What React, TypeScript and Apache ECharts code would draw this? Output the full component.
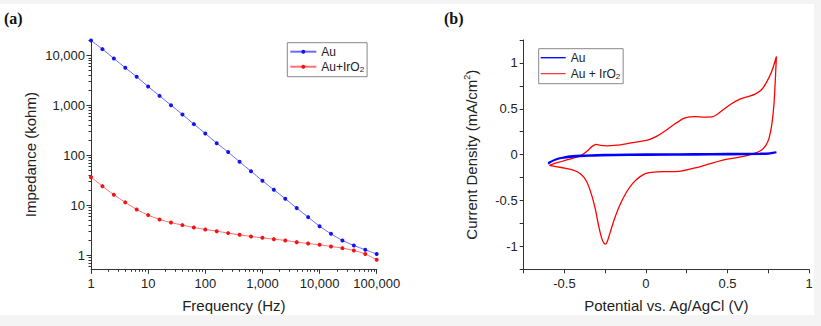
import React, { useEffect, useRef } from "react";
import * as echarts from "echarts";

// ---- Panel (a): impedance vs frequency (5 points per decade) ----
const freqHz = [
  1, 1.585, 2.512, 3.981, 6.31, 10, 15.85, 25.12, 39.81, 63.1, 100, 158.5, 251.2, 398.1, 631, 1000,
  1585, 2512, 3981, 6310, 10000, 15850, 25120, 39810, 63100, 100000,
];
const auImpedance = [
  20000, 13400, 8700, 5660, 3740, 2390, 1550, 1010, 658, 421, 274, 175, 116, 74, 48, 30.9, 20.4,
  13.5, 8.75, 5.77, 3.8, 2.67, 1.97, 1.56, 1.28, 1.05,
];
const auIrO2Impedance = [
  36.5, 24.1, 16.2, 11.4, 8.2, 6.33, 5.18, 4.51, 3.99, 3.58, 3.27, 3.02, 2.76, 2.55, 2.37, 2.22,
  2.09, 1.97, 1.82, 1.71, 1.61, 1.49, 1.38, 1.24, 1.05, 0.81,
];
const freqTickLabels = ["1", "10", "100", "1,000", "10,000", "100,000"];
const impTickLabels = ["1", "10", "100", "1,000", "10,000"];

// ---- Panel (b): cyclic voltammograms ----
const auCvPotential = [
  -0.6, -0.57, -0.54, -0.5, -0.45, -0.4, -0.3, -0.2, 0, 0.2, 0.4, 0.6, 0.7, 0.76, 0.8, 0.8, 0.75,
  0.7, 0.5, 0.3, 0, -0.2, -0.35, -0.45, -0.52, -0.57, -0.6,
];
const auCvCurrent = [
  -0.09, -0.065, -0.045, -0.028, -0.016, -0.009, -0.003, 0.0, 0.003, 0.005, 0.008, 0.01, 0.012,
  0.016, 0.025, 0.018, 0.01, 0.006, 0.002, 0.0, -0.003, -0.006, -0.012, -0.022, -0.038, -0.065, -0.1,
];
const irCvPotential = [
  -0.593, -0.54, -0.48, -0.42, -0.39, -0.36, -0.33, -0.305, -0.28, -0.24, -0.18, -0.1, -0.03, 0.02,
  0.07, 0.13, 0.19, 0.24, 0.3, 0.36, 0.41, 0.46, 0.52, 0.57, 0.62, 0.67, 0.71, 0.74, 0.77, 0.8,
  0.793, 0.785, 0.772, 0.755, 0.735, 0.705, 0.66, 0.6, 0.5, 0.4, 0.3, 0.2, 0.12, 0.05, 0.0, -0.04,
  -0.08, -0.12, -0.16, -0.195, -0.22, -0.235, -0.247, -0.258, -0.272, -0.29, -0.31, -0.335, -0.365,
  -0.4, -0.45, -0.52, -0.593,
];
const irCvCurrent = [
  -0.116, -0.085, -0.055, -0.025, 0.0, 0.04, 0.09, 0.112, 0.1, 0.095, 0.103, 0.125, 0.145, 0.165,
  0.205, 0.275, 0.35, 0.4, 0.415, 0.41, 0.415, 0.47, 0.55, 0.6, 0.63, 0.66, 0.71, 0.79, 0.9, 1.07,
  0.8, 0.55, 0.33, 0.18, 0.1, 0.045, 0.01, -0.02, -0.05, -0.095, -0.145, -0.182, -0.185, -0.19,
  -0.205, -0.245, -0.31, -0.41, -0.55, -0.71, -0.85, -0.935, -0.975, -0.965, -0.91, -0.78, -0.6,
  -0.43, -0.29, -0.21, -0.165, -0.14, -0.116,
];

const FONT = '"Liberation Sans", Arial, sans-serif';
const AXIS_COLOR = "#333";
const TEXT_COLOR = "#222";

const log10 = (v: number) => Math.log10(v);
const minorLogX: number[] = [];
for (let d = 0; d < 5; d++) for (let k = 2; k <= 9; k++) minorLogX.push(d + log10(k));
const minorLogY: number[] = [];
for (let d = -1; d <= 4; d++)
  for (let k = 2; k <= 9; k++) {
    const v = d + log10(k);
    if (v > -0.284 && v < 4.31) minorLogY.push(v);
  }

export default function App() {
  const ref = useRef<HTMLDivElement>(null);
  useEffect(() => {
    if (!ref.current) return;
    const chart = echarts.init(ref.current, null, { renderer: "svg" });
    const yMin = -0.284;
    const yMax = 4.31;
    const axisLineCommon = { show: true, onZero: false, lineStyle: { color: AXIS_COLOR, width: 1 } };
    const labelCommon = { color: TEXT_COLOR, fontFamily: FONT, fontSize: 13 };
    const nameCommon = { color: TEXT_COLOR, fontFamily: FONT, fontSize: 15 };
    const halfFormatter = (v: number) =>
      Math.abs(v * 2 - Math.round(v * 2)) < 1e-9 ? String(+v.toFixed(2)) : "";
    const subRich = {
      sub: { fontSize: 8, fontFamily: FONT, color: TEXT_COLOR, verticalAlign: "bottom", lineHeight: 9 },
    };
    const option: any = {
      animation: false,
      textStyle: { fontFamily: FONT },
      grid: [
        { left: 91, right: 444.3, top: 40, bottom: 56.7 },
        { left: 523.7, right: 12, top: 40, bottom: 56.7 },
      ],
      xAxis: [
        {
          type: "value",
          gridIndex: 0,
          position: "bottom",
          min: 0,
          max: 5,
          interval: 1,
          axisLine: axisLineCommon,
          axisTick: { show: true, inside: false, length: 4.5, lineStyle: { color: AXIS_COLOR } },
          axisLabel: {
            ...labelCommon,
            margin: 8,
            formatter: (v: number) => freqTickLabels[Math.round(v)] ?? "",
          },
          splitLine: { show: false },
          name: "Frequency (Hz)",
          nameLocation: "middle",
          nameGap: 29,
          nameTextStyle: nameCommon,
        },
        {
          type: "value",
          gridIndex: 0,
          position: "bottom",
          min: 0,
          max: 5,
          axisLine: { show: false, onZero: false },
          axisTick: {
            show: true,
            length: 2.5,
            customValues: minorLogX,
            lineStyle: { color: AXIS_COLOR },
          },
          axisLabel: { show: false },
          splitLine: { show: false },
        },
        {
          type: "value",
          gridIndex: 1,
          position: "bottom",
          min: -0.75,
          max: 1,
          interval: 0.25,
          axisLine: axisLineCommon,
          axisTick: { show: true, length: 4, lineStyle: { color: AXIS_COLOR } },
          axisLabel: { ...labelCommon, margin: 8, formatter: halfFormatter },
          splitLine: { show: false },
          name: "Potential vs. Ag/AgCl (V)",
          nameLocation: "middle",
          nameGap: 29,
          nameTextStyle: nameCommon,
        },
      ],
      yAxis: [
        {
          type: "value",
          gridIndex: 0,
          position: "left",
          min: yMin,
          max: yMax,
          axisLine: axisLineCommon,
          axisTick: {
            show: true,
            length: 4.5,
            customValues: [0, 1, 2, 3, 4],
            lineStyle: { color: AXIS_COLOR },
          },
          axisLabel: {
            ...labelCommon,
            margin: 6,
            customValues: [0, 1, 2, 3, 4],
            formatter: (v: number) => impTickLabels[Math.round(v)] ?? "",
          },
          splitLine: { show: false },
          name: "Impedance (kohm)",
          nameLocation: "middle",
          nameGap: 53,
          nameTextStyle: nameCommon,
        },
        {
          type: "value",
          gridIndex: 0,
          position: "left",
          min: yMin,
          max: yMax,
          axisLine: { show: false, onZero: false },
          axisTick: {
            show: true,
            length: 2.5,
            customValues: minorLogY,
            lineStyle: { color: AXIS_COLOR },
          },
          axisLabel: { show: false },
          splitLine: { show: false },
        },
        {
          type: "value",
          gridIndex: 1,
          position: "left",
          min: -1.25,
          max: 1.25,
          interval: 0.25,
          axisLine: axisLineCommon,
          axisTick: { show: true, length: 4, lineStyle: { color: AXIS_COLOR } },
          axisLabel: { ...labelCommon, margin: 6, formatter: halfFormatter },
          splitLine: { show: false },
          name: "Current Density (mA/cm{sup|2})",
          nameLocation: "middle",
          nameGap: 43,
          nameTextStyle: {
            ...nameCommon,
            rich: {
              sup: { fontSize: 9, fontFamily: FONT, color: TEXT_COLOR, verticalAlign: "top", lineHeight: 18 },
            },
          },
        },
      ],
      legend: [
        {
          left: 287.3,
          top: 42.7,
          orient: "vertical",
          data: ["Au", "Au+IrO2"],
          itemWidth: 26,
          itemHeight: 5,
          itemGap: 1,
          padding: [2, 3, 3, 2],
          borderColor: "#888",
          borderWidth: 1,
          backgroundColor: "#fff",
          formatter: (n: string) => (n === "Au+IrO2" ? "Au+IrO{sub|2}" : n),
          textStyle: { fontFamily: FONT, fontSize: 12, color: TEXT_COLOR, lineHeight: 14, rich: subRich },
        },
        {
          left: 538.7,
          top: 48.7,
          orient: "vertical",
          data: [
            { name: "Au (b)", icon: "path://M0 0H30V1.6H0Z" },
            { name: "Au + IrO2", icon: "path://M0 0H30V1.2H0Z" },
          ],
          itemWidth: 25,
          itemHeight: 12,
          itemGap: 2,
          padding: [2, 3, 3, 2],
          borderColor: "#888",
          borderWidth: 1,
          backgroundColor: "#fff",
          formatter: (n: string) =>
            n === "Au (b)" ? "Au" : n === "Au + IrO2" ? "Au + IrO{sub|2}" : n,
          textStyle: { fontFamily: FONT, fontSize: 12, color: TEXT_COLOR, lineHeight: 14, rich: subRich },
        },
      ],
      graphic: [
        {
          type: "text",
          left: 4,
          top: 10,
          style: { text: "(a)", font: 'bold 16px "Liberation Serif", "Times New Roman", serif', fill: "#111" },
        },
        {
          type: "text",
          left: 444,
          top: 10,
          style: { text: "(b)", font: 'bold 16px "Liberation Serif", "Times New Roman", serif', fill: "#111" },
        },
      ],
      series: [
        {
          name: "Au",
          type: "line",
          xAxisIndex: 0,
          yAxisIndex: 0,
          smooth: 0.3,
          symbol: "circle",
          symbolSize: 4,
          itemStyle: { color: "#1414f0" },
          lineStyle: { color: "#6a6aff", width: 1 },
          data: freqHz.map((f, i) => [log10(f), log10(auImpedance[i])]),
          z: 3,
        },
        {
          name: "Au+IrO2",
          type: "line",
          xAxisIndex: 0,
          yAxisIndex: 0,
          smooth: 0.3,
          symbol: "circle",
          symbolSize: 4,
          itemStyle: { color: "#f01414" },
          lineStyle: { color: "#ff7070", width: 1 },
          data: freqHz.map((f, i) => [log10(f), log10(auIrO2Impedance[i])]),
          z: 2,
        },
        {
          name: "Au (b)",
          type: "line",
          xAxisIndex: 2,
          yAxisIndex: 2,
          smooth: 0.3,
          showSymbol: false,
          symbol: "none",
          itemStyle: { color: "#0000ff" },
          lineStyle: { color: "#0000ff", width: 2 },
          data: auCvPotential.map((x, i) => [x, auCvCurrent[i]]),
          z: 3,
        },
        {
          name: "Au + IrO2",
          type: "line",
          xAxisIndex: 2,
          yAxisIndex: 2,
          smooth: 0.3,
          showSymbol: false,
          symbol: "none",
          itemStyle: { color: "#ff0000" },
          lineStyle: { color: "#ff0000", width: 1.3 },
          data: irCvPotential.map((x, i) => [x, irCvCurrent[i]]),
          z: 2,
        },
      ],
    };
    chart.setOption(option);
    return () => chart.dispose();
  }, []);

  return (
    <div style={{ position: "fixed", left: 0, top: 0, width: 821, height: 326, background: "#f4f4f4" }}>
      <div style={{ position: "absolute", left: 0, top: 4, width: 814, height: 311, background: "#fff" }} />
      <div ref={ref} style={{ position: "absolute", left: 0, top: 0, width: 821, height: 326 }} />
    </div>
  );
}
